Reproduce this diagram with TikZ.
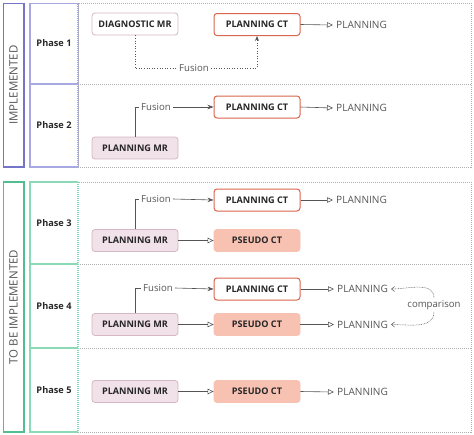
\documentclass[tikz,border=0pt]{standalone}
\usepackage{fontspec}
\setmainfont{Open Sans}
\usetikzlibrary{arrows.meta}
\definecolor{impdark}{HTML}{7474C8}
\definecolor{implight}{HTML}{A8A8E2}
\definecolor{tbdark}{HTML}{52BE90}
\definecolor{tblight}{HTML}{8CD9B8}
\definecolor{mrborder}{HTML}{D4B6C4}
\definecolor{mrfill}{HTML}{F1E1E9}
\definecolor{ctborder}{HTML}{D8654C}
\definecolor{psfill}{HTML}{F8C2B3}
\definecolor{txtgrey}{HTML}{555555}
\definecolor{linegrey}{HTML}{555555}
\definecolor{regiongrey}{HTML}{B0B0B0}
\tikzset{
  boxbase/.style={rounded corners=3pt, minimum width=86pt, minimum height=22pt, inner sep=0pt,
    font=\fontsize{9.1}{10}\selectfont\bfseries, text=black!85},
  mrbox/.style={boxbase, draw=mrborder, fill=mrfill, line width=0.8pt},
  diagbox/.style={boxbase, draw=mrborder, fill=white, line width=0.8pt},
  ctbox/.style={boxbase, draw=ctborder, fill=white, line width=1pt},
  psbox/.style={boxbase, draw=psfill, fill=psfill, line width=0.8pt},
  plan/.style={anchor=west, inner sep=0pt, font=\fontsize{10.1}{11}\selectfont, text=txtgrey},
  fus/.style={inner sep=2pt, font=\fontsize{9.6}{11}\selectfont, text=txtgrey},
  phaselbl/.style={font=\fontsize{9.2}{11}\selectfont\bfseries, text=black!85},
  sidelbl/.style={rotate=90, font=\fontsize{11.5}{13}\selectfont, text=txtgrey},
  openarrow/.style={draw=linegrey, line width=0.6pt, -{Triangle[open, length=6pt, width=5.5pt]}},
  solidarrow/.style={draw=linegrey, line width=0.6pt, -{Stealth[length=6pt, width=4.5pt]}},
  plainline/.style={draw=linegrey, line width=0.6pt},
  dotline/.style={draw=linegrey, line width=0.7pt, dash pattern=on 1pt off 1.6pt},
  region/.style={draw=regiongrey, line width=0.7pt, dash pattern=on 1pt off 1pt},
}
\begin{document}
\begin{tikzpicture}[x=1pt, y=-1pt]
\useasboundingbox (0,0) rectangle (474,434);
% regions
\draw[region] (78,3) rectangle (471,167);
\draw[region] (78,84) -- (471,84);
\draw[region] (78,182) rectangle (471,432);
\draw[region] (78,264) -- (471,264);
\draw[region] (78,348) -- (471,348);
% side boxes
\draw[impdark, line width=1.2pt] (3.5,3.5) rectangle (24,167);
\node[sidelbl] (imp) at (13.5,85) {IMPLEMENTED};
\draw[tbdark, line width=1.2pt] (3.5,182) rectangle (24,432);
\node[sidelbl] (tbi) at (13.5,307) {TO BE IMPLEMENTED};
% phase boxes
\foreach \ya/\yb/\c in {3.5/84/implight, 84/167/implight, 182/264/tblight, 264/348/tblight, 348/432/tblight}{
  \draw[\c, line width=1.1pt] (78,\ya) -- (30,\ya) -- (30,\yb) -- (78,\yb);
  \draw[\c, line width=1.1pt, dash pattern=on 1pt off 1pt] (78,\ya) -- (78,\yb);
}
\node[phaselbl] (ph1) at (54,43.5) {Phase 1};
\node[phaselbl] (ph2) at (54,125.5) {Phase 2};
\node[phaselbl] (ph3) at (54,223) {Phase 3};
\node[phaselbl] (ph4) at (54,306) {Phase 4};
\node[phaselbl] (ph5) at (54,390) {Phase 5};

% Phase 1
\node[diagbox] (diag) at (135,24) {DIAGNOSTIC MR};
\node[ctbox] (ct1) at (257,24.5) {PLANNING CT};
\node[plan] (pl1) at (336,25) {PLANNING};
\node[fus] (f1) at (194,68) {Fusion};
\draw[dotline] (diag.south) |- (f1.west);
\draw[dotline, -{Stealth[length=5pt, width=4pt]}] (f1.east) -| (ct1.south);
\draw[openarrow] (ct1.east) -- ([xshift=-3pt]pl1.west);

% Phase 2
\node[ctbox] (ct2) at (257,107) {PLANNING CT};
\node[plan] (pl2) at (336,108) {PLANNING};
\node[mrbox] (mr2) at (135,148) {PLANNING MR};
\node[fus] (f2) at (156,107) {Fusion};
\draw[plainline] (mr2.north) |- (f2.west);
\draw[solidarrow] (f2.east) -- (ct2.west);
\draw[openarrow] (ct2.east) -- ([xshift=-3pt]pl2.west);

% Phase 3
\node[ctbox] (ct3) at (257,200) {PLANNING CT};
\node[plan] (pl3) at (336,200) {PLANNING};
\node[mrbox] (mr3) at (135,240.5) {PLANNING MR};
\node[psbox] (ps3) at (257,240.5) {PSEUDO CT};
\node[fus] (f3) at (156,199) {Fusion};
\draw[plainline] (mr3.north) |- (f3.west);
\draw[solidarrow] (f3.east) -- (ct3.west);
\draw[openarrow] (ct3.east) -- ([xshift=-3pt]pl3.west);
\draw[openarrow] (mr3.east) -- (ps3.west);

% Phase 4
\node[ctbox] (ct4) at (257,289) {PLANNING CT};
\node[plan] (pl4a) at (337,289) {PLANNING};
\node[mrbox] (mr4) at (135,324.5) {PLANNING MR};
\node[psbox] (ps4) at (257,324.5) {PSEUDO CT};
\node[plan] (pl4b) at (337,324.5) {PLANNING};
\node[fus] (f4) at (158,288) {Fusion};
\node[fus] (cmp) at (434,305) {comparison};
\draw[plainline] (mr4.north) |- (f4.west);
\draw[solidarrow] (f4.east) -- (ct4.west);
\draw[openarrow] (ct4.east) -- ([xshift=-3pt]pl4a.west);
\draw[openarrow] (mr4.east) -- (ps4.west);
\draw[openarrow] (ps4.east) -- ([xshift=-3pt]pl4b.west);
\draw[draw=linegrey, line width=0.5pt, dash pattern=on 0.8pt off 0.8pt, {Straight Barb[length=3pt, width=5pt]}-] ([xshift=3pt]pl4a.east) to[out=0, in=90] (cmp.north);
\draw[draw=linegrey, line width=0.5pt, dash pattern=on 0.8pt off 0.8pt, -{Straight Barb[length=3pt, width=5pt]}] (cmp.south) to[out=-90, in=0] ([xshift=3pt]pl4b.east);

% Phase 5
\node[mrbox] (mr5) at (135,391.5) {PLANNING MR};
\node[psbox] (ps5) at (257,391.5) {PSEUDO CT};
\node[plan] (pl5) at (337,392) {PLANNING};
\draw[openarrow] (mr5.east) -- (ps5.west);
\draw[openarrow] (ps5.east) -- ([xshift=-3pt]pl5.west);
\end{tikzpicture}
\end{document}
